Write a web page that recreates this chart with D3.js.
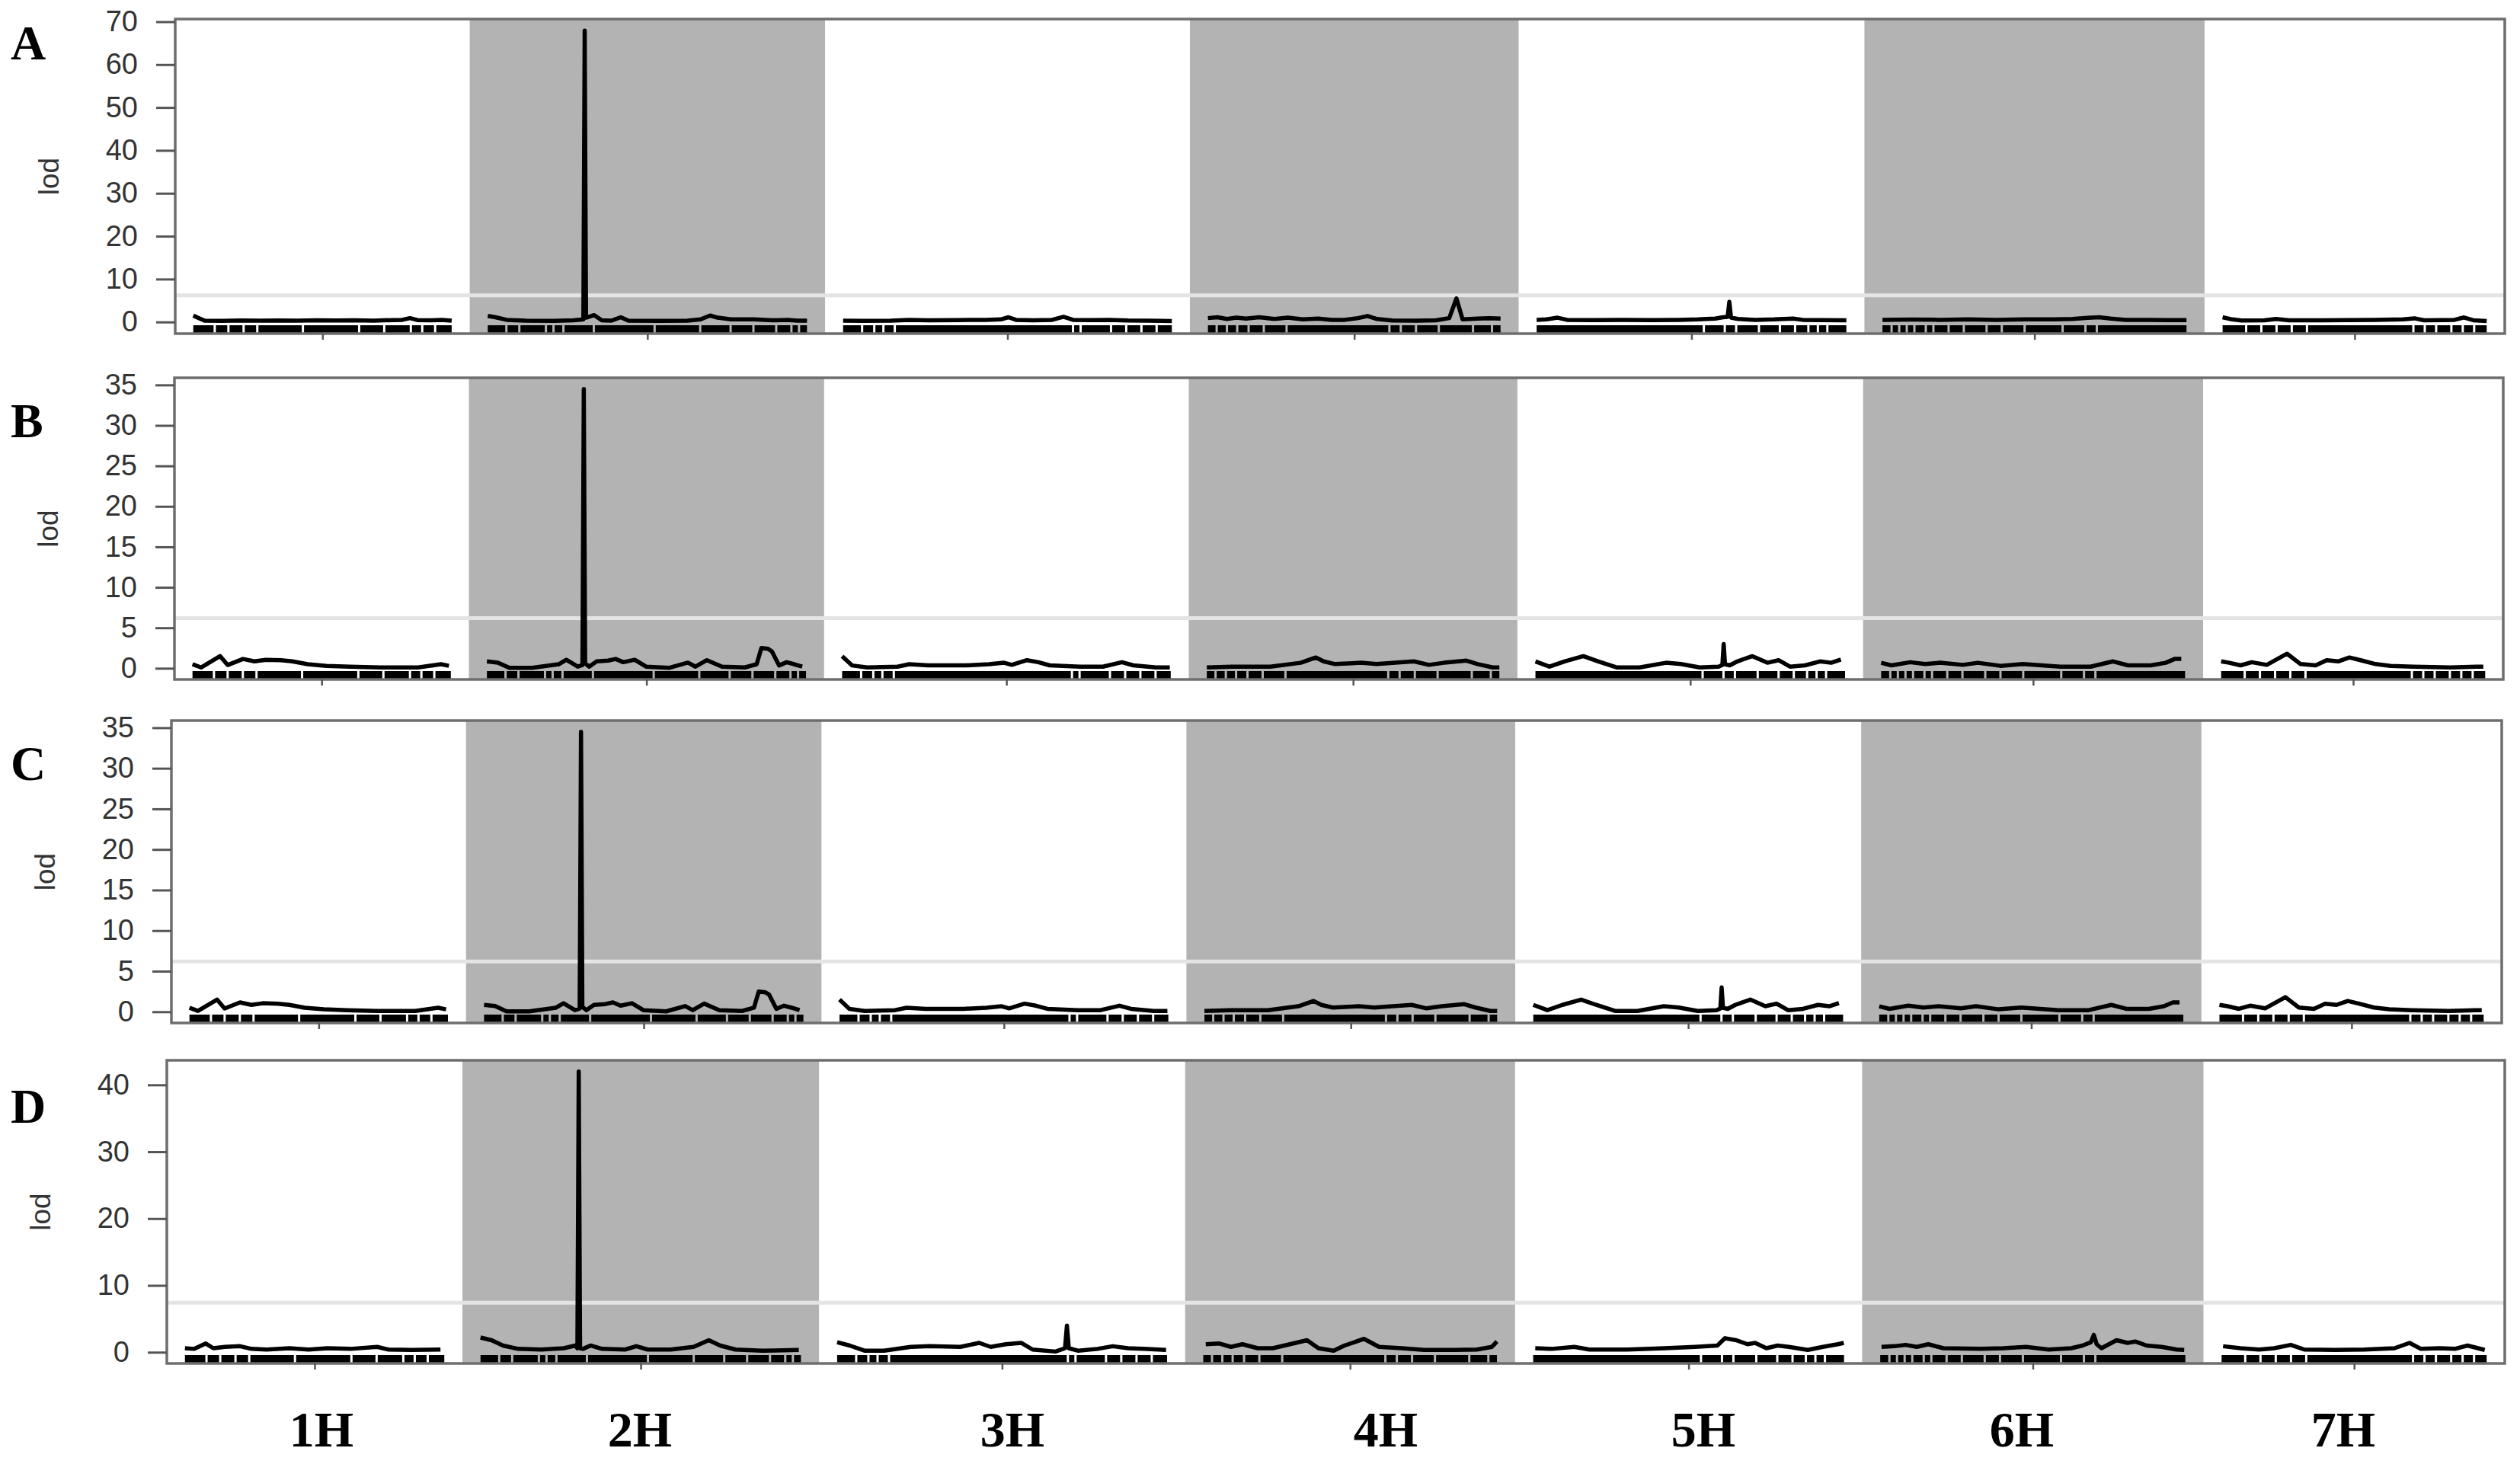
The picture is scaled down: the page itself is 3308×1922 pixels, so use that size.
<!DOCTYPE html>
<html>
<head>
<meta charset="utf-8">
<script src="https://cdn.jsdelivr.net/npm/d3@7"></script>
<style>
  body { margin: 0; background: #fff; }
  .tick text { font-family: "Liberation Sans", Arial, sans-serif; }
</style>
</head>
<body>
<div id="chart"></div>
<script>

// Chromosomes and map lengths (cM)
var chromosomes = ["1H", "2H", "3H", "4H", "5H", "6H", "7H"];
var chrLengths = [136, 168, 173, 154, 163, 160, 139];
var chrGap = 19;

var panelLabels = ["A", "B", "C", "D"];
var thresholds = [6.2, 6.2, 6.2, 7.4];

var yTicksA = [0, 10, 20, 30, 40, 50, 60, 70];
var yTicksB = [0, 5, 10, 15, 20, 25, 30, 35];
var yTicksC = [0, 5, 10, 15, 20, 25, 30, 35];
var yTicksD = [0, 10, 20, 30, 40];

// LOD profiles: one list of [cM, lod] per chromosome
var lodA = [
    [[0,1.5],[3,0.9],[6,0.3],[15,0.25],[25,0.35],[35,0.3],[45,0.35],[55,0.3],[65,0.4],[75,0.35],[85,0.4],[95,0.3],[105,0.45],[110,0.5],[114,0.9],[118,0.45],[125,0.4],[131,0.5],[136,0.3]],
    [[0,1.4],[4,1.1],[10,0.5],[20,0.3],[35,0.25],[45,0.4],[50.3,0.6],[51,67.9],[51.7,1.0],[56,1.6],[60,0.4],[65,0.3],[70,1.1],[74,0.3],[90,0.25],[105,0.3],[112,0.6],[117,1.5],[121,1.0],[128,0.6],[140,0.6],[150,0.4],[158,0.5],[163,0.3],[168,0.3]],
    [[0,0.3],[10,0.25],[25,0.3],[35,0.5],[45,0.4],[60,0.45],[75,0.5],[83,0.6],[87,1.1],[91,0.5],[100,0.4],[110,0.5],[116,1.2],[121,0.5],[130,0.45],[140,0.5],[150,0.35],[160,0.3],[173,0.2]],
    [[0,0.9],[5,1.1],[10,0.7],[15,1.0],[20,0.8],[27,1.1],[35,0.7],[42,1.0],[50,0.6],[58,0.8],[65,0.5],[72,0.5],[79,0.9],[84,1.4],[89,0.7],[97,0.35],[110,0.3],[120,0.4],[127,0.9],[130.8,5.5],[134,0.6],[142,0.8],[148,0.9],[154,0.8]],
    [[0,0.5],[5,0.6],[11,1.0],[16,0.5],[30,0.45],[45,0.5],[60,0.45],[75,0.5],[85,0.6],[94,0.8],[98,1.1],[100.5,1.2],[101.4,4.7],[102.3,1.0],[106,0.7],[115,0.5],[125,0.6],[135,0.8],[140,0.5],[150,0.45],[163,0.4]],
    [[0,0.5],[15,0.55],[30,0.5],[45,0.6],[60,0.5],[75,0.6],[90,0.6],[100,0.7],[108,0.95],[114,1.1],[120,0.8],[128,0.5],[140,0.5],[150,0.45],[160,0.45]],
    [[0,1.1],[5,0.6],[10,0.35],[22,0.4],[28,0.7],[35,0.4],[50,0.4],[65,0.45],[80,0.5],[95,0.6],[101,0.85],[106,0.4],[115,0.45],[122,0.5],[127,1.05],[132,0.4],[139,0.2]]
];

var lodB = [
    [[0,0.5],[4.5,0.1],[14.5,1.5],[18.5,0.4],[26.6,1.15],[32.6,0.85],[38.6,1.05],[46.6,1.0],[52.6,0.85],[60.6,0.5],[70.6,0.3],[82.7,0.2],[98.7,0.1],[118.8,0.1],[130.8,0.5],[135,0.3]],
    [[0,0.85],[5.8,0.7],[11.8,0.05],[23.8,0.05],[37.8,0.5],[41.8,1.05],[47.8,0.2],[50.3,0.4],[51,34.5],[51.7,0.6],[53.8,0.2],[57.8,0.85],[63.8,0.95],[67.8,1.15],[71.8,0.75],[77.8,1.05],[83.8,0.2],[95.8,0.05],[105.8,0.7],[109.8,0.2],[115.8,1.0],[123.8,0.2],[135.8,0.1],[142,0.5],[144.5,2.5],[148,2.4],[150,2.1],[153.8,0.35],[157.8,0.75],[161.8,0.5],[166,0.2]],
    [[0,1.5],[5.2,0.35],[13.2,0.1],[29.2,0.2],[35.3,0.5],[45.3,0.36],[65.3,0.36],[77.3,0.5],[85.3,0.68],[89.3,0.42],[97.3,1.0],[103.3,0.75],[109.3,0.36],[125.3,0.2],[137.3,0.2],[147.3,0.75],[153.3,0.36],[165.3,0.1],[172.5,0.1]],
    [[0,0.1],[13.4,0.2],[33.4,0.2],[49.4,0.68],[57.4,1.33],[61.5,0.85],[67.5,0.52],[81.3,0.68],[89.3,0.52],[109,0.85],[116.9,0.42],[124.8,0.68],[136.7,0.94],[142.6,0.52],[150.5,0.1],[154,0.1]],
    [[0,0.85],[7.4,0.2],[15.3,0.85],[25.2,1.5],[33.1,0.85],[43,0.1],[54.8,0.1],[68.7,0.68],[76.6,0.52],[86.5,0.1],[96.4,0.2],[98.4,0.4],[99.1,3.0],[99.8,0.5],[102.3,0.36],[106.3,0.85],[114.2,1.5],[122.1,0.68],[128,1.0],[134,0.2],[141.9,0.36],[149.8,0.85],[155.7,0.68],[160.8,1.07]],
    [[0,0.68],[5.4,0.36],[15.3,0.75],[23.2,0.52],[31.1,0.68],[43,0.42],[50.9,0.68],[62.8,0.3],[74.6,0.52],[94.4,0.2],[110.2,0.2],[122.1,0.85],[130,0.36],[141.9,0.36],[149.8,0.68],[154.5,1.15],[158,1.15]],
    [[0,0.85],[4.3,0.68],[10.2,0.36],[16.1,0.75],[24,0.42],[34.7,1.8],[41.8,0.52],[49.7,0.36],[55.6,1.0],[61.6,0.85],[67.5,1.33],[73.4,1.0],[81.3,0.52],[89.2,0.3],[101.1,0.2],[120.8,0.1],[134.7,0.2],[138,0.2]]
];

// C reads the same as B in the figure
var lodC = lodB;

var lodD = [
    [[0,0.6],[4.9,0.5],[10.9,1.3],[14.9,0.6],[20.9,0.8],[28.9,0.9],[34.9,0.5],[42.8,0.4],[54.8,0.6],[64.8,0.4],[74.8,0.6],[86.8,0.5],[100.8,0.8],[106.8,0.4],[118.8,0.35],[134,0.4]],
    [[0,2.2],[5.8,1.8],[11.8,1.0],[19.7,0.5],[31.7,0.4],[43.7,0.6],[49.7,1.0],[50.8,0.6],[51.5,42.0],[52.2,0.6],[53.7,0.5],[57.7,1.0],[63.7,0.5],[75.7,0.4],[81.7,0.9],[87.7,0.4],[99.7,0.4],[111.7,0.8],[119.7,1.8],[125.7,1.0],[133.7,0.4],[147.7,0.22],[166.9,0.34]],
    [[0,1.5],[6.6,1.0],[14.6,0.22],[24.6,0.22],[38.6,0.8],[48.6,0.9],[64.6,0.8],[74.5,1.4],[80.5,0.8],[88.5,1.2],[96.5,1.4],[102.5,0.4],[114.5,0.1],[119.5,0.6],[120.5,4.0],[121.5,0.6],[126.5,0.22],[136.5,0.5],[144.5,0.9],[152.5,0.6],[160.5,0.5],[172.5,0.34]],
    [[1.3,1.2],[8.5,1.3],[14.5,0.8],[20.5,1.2],[28.5,0.6],[36.5,0.6],[48.4,1.4],[54.4,1.8],[60.4,0.6],[68.4,0.22],[74,1.0],[84.3,2.0],[92.2,0.8],[104,0.6],[115.9,0.34],[131.7,0.34],[143.5,0.4],[151.4,0.8],[154,1.6]],
    [[1.1,0.6],[9.8,0.5],[21.6,0.8],[29.5,0.4],[49.3,0.4],[69,0.6],[84.8,0.8],[96.6,1.0],[100.6,2.1],[106.5,1.8],[112.4,1.2],[116.4,1.4],[122.3,0.6],[128.2,1.0],[134.1,0.8],[144,0.34],[151.9,0.8],[159.8,1.2],[162.9,1.4]],
    [[0.7,0.8],[7.4,0.9],[13.3,1.1],[19.2,0.8],[25.2,1.2],[33.1,0.6],[52.8,0.5],[64.6,0.6],[76.5,0.8],[88.3,0.4],[100.2,0.6],[106.1,1.0],[110.5,1.5],[112,2.6],[113.5,1.2],[116,0.6],[123.9,1.8],[129.8,1.4],[133.7,1.6],[139.7,1.0],[147.6,0.8],[155.5,0.4],[159.4,0.34]],
    [[0.8,0.9],[9.9,0.6],[19.7,0.4],[27.6,0.6],[36.3,1.1],[43.4,0.4],[59.2,0.34],[75,0.4],[90.7,0.6],[98.6,1.4],[104.5,0.5],[114.4,0.6],[122.3,0.5],[129,1.0],[138,0.34]]
];

// Holes in the marker rug (cM), per chromosome
var rugGaps = [
    [11.3, 18.5, 26.5, 33.7, 57.7, 87.3, 100.5, 114.5, 120.5, 127.3],
    [9.8, 16.6, 30.6, 34.6, 39.8, 55.8, 87.8, 111.8, 127.8, 139.8, 151.8, 159.8, 163.8],
    [10, 16.4, 21.2, 27.2, 121, 125, 141, 149, 157, 165],
    [4.6, 10, 15.4, 21.4, 29.4, 41.4, 95.5, 101.5, 109.5, 121.5, 139.5, 149.5],
    [88, 99, 105, 117, 128, 136, 143, 148, 153],
    [4.8, 8.8, 12.8, 16.8, 22.8, 26.8, 34.8, 42.8, 54.8, 62.8, 74.8, 94.8, 106.8, 112.8],
    [12.4, 20.4, 28.4, 36.4, 44.4, 100.4, 106.4, 112.4, 120.4, 126.4, 132.4]
];

var svgWidth = 3308;
var svgHeight = 1922;

// Panel boxes (the scan is slightly skewed, so lefts differ)
var boxes = [
    { top: 25,   bottom: 438,  left: 230, right: 3288, letterY: 78 },
    { top: 496,  bottom: 892,  left: 229, right: 3286, letterY: 574 },
    { top: 946,  bottom: 1343, left: 225, right: 3284, letterY: 1024 },
    { top: 1392, bottom: 1790, left: 219, right: 3288, letterY: 1474 }
];

// the chromosome names were placed by hand under the figure
var chrLabelX = [422, 840, 1329, 1819, 2236, 2654, 3076];

var lodSets = [lodA, lodB, lodC, lodD];
var yTickSets = [yTicksA, yTicksB, yTicksC, yTicksD];

// cumulative chromosome offsets
var chrStart = [];
var pos = chrGap / 2;
chrLengths.forEach(function(len) {
    chrStart.push(pos);
    pos += len + chrGap;
});
var totalLength = pos - chrGap / 2;

var svg = d3.select("#chart")
    .append("svg")
    .attr("width", svgWidth)
    .attr("height", svgHeight)
    .style("background", "#fff");

var line = d3.line();

boxes.forEach(function(box, p) {
    var data = lodSets[p];
    var maxLod = d3.max(data, function(c) { return d3.max(c, function(d) { return d[1]; }); });

    var xScale = d3.scaleLinear()
        .domain([0, totalLength])
        .range([box.left, box.right]);

    // R-style 4% padding on the lod axis
    var yScale = d3.scaleLinear()
        .domain([-0.04 * maxLod, maxLod * 1.04])
        .range([box.bottom, box.top]);

    var g = svg.append("g");

    // alternating grey bands
    g.selectAll("rect.band")
        .data(chromosomes.filter(function(c, i) { return i % 2 == 1; }))
        .enter()
        .append("rect")
        .attr("class", "band")
        .attr("x", function(c) { var i = chromosomes.indexOf(c); return xScale(chrStart[i] - chrGap / 2); })
        .attr("width", function(c) { var i = chromosomes.indexOf(c); return xScale(chrLengths[i] + chrGap) - xScale(0); })
        .attr("y", box.top)
        .attr("height", box.bottom - box.top)
        .attr("fill", "#b3b3b3");

    // threshold line
    g.append("line")
        .attr("x1", box.left)
        .attr("x2", box.right)
        .attr("y1", yScale(thresholds[p]))
        .attr("y2", yScale(thresholds[p]))
        .attr("stroke", "#e4e4e4")
        .attr("stroke-width", 5);

    // marker rug
    chromosomes.forEach(function(c, i) {
        var edges = [0].concat(rugGaps[i]).concat([chrLengths[i]]);
        var segs = [];
        for (var k = 0; k < edges.length - 1; k++) {
            var a = k == 0 ? edges[k] : edges[k] + 0.6;
            var b = k == edges.length - 2 ? edges[k + 1] : edges[k + 1] - 0.6;
            segs.push([a, b]);
        }
        g.selectAll(null)
            .data(segs)
            .enter()
            .append("rect")
            .attr("x", function(d) { return xScale(chrStart[i] + d[0]); })
            .attr("width", function(d) { return xScale(d[1]) - xScale(d[0]); })
            .attr("y", box.bottom - 11)
            .attr("height", 10)
            .attr("fill", "#000");
    });

    // lod curves
    data.forEach(function(curve, i) {
        line.x(function(d) { return xScale(chrStart[i] + d[0]); })
            .y(function(d) { return yScale(d[1]); });
        g.append("path")
            .attr("d", line(curve))
            .attr("fill", "none")
            .attr("stroke", "#000")
            .attr("stroke-width", 5.5)
            .attr("stroke-linejoin", "round");
    });

    // frame
    g.append("rect")
        .attr("x", box.left)
        .attr("y", box.top)
        .attr("width", box.right - box.left)
        .attr("height", box.bottom - box.top)
        .attr("fill", "none")
        .attr("stroke", "#6e6e6e")
        .attr("stroke-width", 3.5);

    // y axis
    var yAxis = d3.axisLeft(yScale)
        .tickValues(yTickSets[p])
        .tickSize(25)
        .tickPadding(24);
    var ya = g.append("g")
        .attr("transform", `translate(${box.left}, 0)`)
        .call(yAxis);
    ya.select(".domain").remove();
    ya.selectAll(".tick line").attr("stroke", "#555").attr("stroke-width", 3);
    ya.selectAll(".tick text").attr("font-size", 38).attr("fill", "#333");

    // chromosome midpoint ticks under the box
    var xAxis = d3.axisBottom(xScale)
        .tickValues(chrStart.map(function(s, i) { return s + chrLengths[i] / 2; }))
        .tickFormat("")
        .tickSize(8);
    var xa = g.append("g")
        .attr("transform", `translate(0, ${box.bottom})`)
        .call(xAxis);
    xa.select(".domain").remove();
    xa.selectAll(".tick line").attr("stroke", "#555").attr("stroke-width", 2.5);

    // axis title
    g.append("text")
        .attr("transform", `translate(${box.left - 153}, ${(box.top + box.bottom) / 2}) rotate(-90)`)
        .attr("text-anchor", "middle")
        .attr("font-family", "Liberation Sans, Arial, sans-serif")
        .attr("font-size", 37)
        .attr("fill", "#333")
        .text("lod");

    // panel letter
    g.append("text")
        .attr("x", 14)
        .attr("y", box.letterY)
        .attr("font-family", "Liberation Serif, Times New Roman, serif")
        .attr("font-weight", "bold")
        .attr("font-size", 64)
        .attr("fill", "#000")
        .text(panelLabels[p]);
});

// chromosome names under the bottom panel
svg.selectAll("text.chr")
    .data(chromosomes)
    .enter()
    .append("text")
    .attr("class", "chr")
    .attr("x", function(c, i) { return chrLabelX[i]; })
    .attr("y", 1899)
    .attr("text-anchor", "middle")
    .attr("font-family", "Liberation Serif, Times New Roman, serif")
    .attr("font-weight", "bold")
    .attr("font-size", 66)
    .attr("fill", "#000")
    .text(function(c) { return c; });

</script>
</body>
</html>
